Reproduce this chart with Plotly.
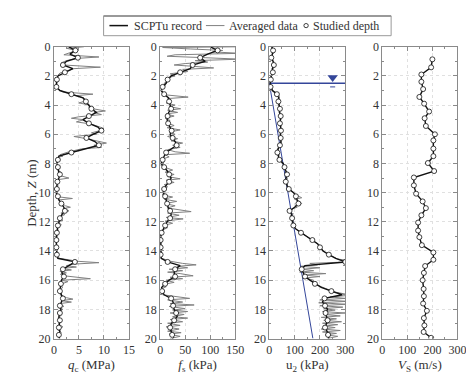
import plotly.graph_objects as go

# ---------------- data ----------------
avg_depth = [0.0, 0.25, 0.5, 0.75, 1.0, 1.25, 1.5, 1.75, 2.0, 2.25, 2.5, 2.75, 3.0, 3.25, 3.5, 3.75,
             4.0, 4.25, 4.5, 4.75, 5.0, 5.25, 5.5, 5.75, 6.0, 6.25, 6.5, 6.75, 7.0, 7.25, 7.5, 7.75,
             8.0, 8.25, 8.5, 8.75, 9.0, 9.25, 9.5, 9.75, 10.0, 10.25, 10.5, 10.75, 11.0, 11.25, 11.5, 11.75,
             12.0, 12.25, 12.5, 12.75, 13.0, 13.25, 13.5, 13.75, 14.0, 14.25, 14.5, 14.75, 15.0, 15.25, 15.5, 15.75,
             16.0, 16.25, 16.5, 16.75, 17.0, 17.25, 17.5, 17.75, 18.0, 18.25, 18.5, 18.75, 19.0, 19.25, 19.5, 19.75, 20.0]

qc_avg = [3.0, 4.3, 3.2, 4.8, 2.5, 1.8, 3.8, 2.2, 0.8, 0.6, 0.5, 0.5, 1.2, 3.5, 5.8, 6.4,
          7.0, 7.5, 8.5, 7.0, 5.8, 7.0, 8.8, 9.5, 7.8, 6.5, 8.2, 9.0, 6.0, 3.5, 1.0, 0.8,
          0.6, 0.8, 0.9, 1.2, 1.0, 0.7, 0.6, 0.6, 0.5, 0.8, 1.0, 1.5, 2.0, 2.2, 1.6, 1.2,
          1.0, 0.8, 0.7, 0.6, 0.5, 0.5, 0.5, 0.5, 0.6, 0.6, 0.8, 4.2, 3.0, 1.8, 1.6, 2.0,
          1.5, 1.4, 1.2, 1.2, 1.5, 1.8, 1.5, 1.2, 1.4, 1.2, 1.0, 1.2, 1.1, 1.0, 1.2, 1.0, 1.1]

fs_avg = [100, 115, 95, 80, 90, 65, 60, 40, 22, 15, 12, 5, 2, 8, 17, 18,
          20, 22, 17, 15, 14, 16, 20, 23, 20, 25, 30, 33, 22, 12, 8, 5,
          2, 8, 14, 18, 22, 18, 12, 8, 6, 10, 12, 14, 16, 20, 22, 20,
          14, 10, 6, 3, 1, 1, 1, 1, 1, 1, 2, 15, 40, 30, 28, 30,
          18, 10, 3, 4, 8, 22, 26, 26, 28, 32, 34, 28, 22, 20, 22, 24, 26]

u2_avg = [10, 15, 12, 8, 15, 18, 12, 14, 8, 6, 3, 5, 12, 30, 38, 36,
          38, 42, 40, 45, 44, 42, 45, 46, 44, 45, 46, 42, 35, 32, 36, 40,
          55, 60, 65, 70, 66, 65, 70, 77, 96, 105, 110, 115, 100, 80, 88, 90,
          92, 95, 105, 125, 150, 170, 190, 200, 212, 235, 262, 300, 141, 128, 135, 141,
          160, 180, 205, 245, 288, 218, 210, 220, 230, 222, 225, 230, 225, 220, 228, 232, 235]

qc_raw_depth = [0.0, 0.1, 0.25, 0.4, 0.55, 0.7, 0.8, 0.95, 1.1, 1.25, 1.4, 1.5, 1.65, 1.8, 2.0, 2.3, 2.6, 2.9,
                3.1, 3.25, 3.35, 3.5, 3.7, 3.85, 4.0, 4.2, 4.4, 4.5, 4.65, 4.8, 4.9, 5.0, 5.15, 5.3, 5.5,
                5.6, 5.75, 5.9, 6.0, 6.15, 6.3, 6.5, 6.6, 6.75, 6.9, 7.0, 7.2, 7.4, 7.5, 7.6, 7.8, 8.0,
                8.2, 8.4, 8.6, 8.8, 9.0, 9.1, 9.3, 9.5, 9.7, 9.9, 10.1, 10.3, 10.4, 10.5, 10.7, 10.9,
                11.0, 11.1, 11.25, 11.4, 11.5, 11.7, 11.9, 12.0, 12.2, 12.4, 12.6, 12.8, 13.0, 13.3,
                13.6, 13.9, 14.2, 14.5, 14.6, 14.7, 14.8, 14.9, 15.0, 15.1, 15.2, 15.3, 15.4, 15.5,
                15.6, 15.7, 15.9, 16.0, 16.1, 16.3, 16.5, 16.7, 16.9, 17.0, 17.2, 17.3, 17.4, 17.5,
                17.6, 17.8, 17.9, 18.0, 18.2, 18.4, 18.6, 18.8, 19.0, 19.2, 19.4, 19.6, 19.8, 20.0]
qc_raw = [6.0, 2.5, 4.5, 3.0, 2.0, 9.0, 4.5, 2.5, 1.5, 2.0, 9.3, 4.0, 2.5, 1.2, 0.7, 0.5, 0.4, 0.8,
          1.8, 7.8, 4.5, 6.0, 6.5, 5.0, 7.2, 7.0, 10.3, 8.0, 9.5, 5.0, 3.5, 6.0, 4.5, 7.5, 9.0,
          10.0, 9.2, 7.5, 8.5, 4.0, 6.5, 9.5, 10.5, 8.0, 9.5, 5.5, 3.0, 1.2, 1.8, 0.6, 0.9, 0.5,
          1.0, 0.7, 1.4, 0.9, 3.0, 1.0, 0.6, 0.8, 0.5, 0.6, 0.4, 1.2, 3.7, 1.0, 1.5, 2.3,
          3.3, 1.8, 3.0, 1.4, 2.2, 1.0, 1.8, 0.8, 1.5, 0.6, 0.9, 0.5, 0.6, 0.4,
          0.6, 0.5, 0.7, 0.8, 3.0, 4.5, 9.0, 4.0, 2.5, 4.5, 1.5, 3.5, 1.2, 2.5,
          1.3, 2.0, 7.3, 1.5, 2.8, 1.2, 1.8, 0.9, 1.6, 1.2, 2.5, 3.8, 1.5, 3.5,
          1.3, 2.0, 1.0, 1.8, 1.0, 1.5, 0.8, 1.6, 0.9, 1.8, 0.8, 1.5, 0.9, 1.2]

fs_raw_depth = [0.0, 0.05, 0.15, 0.25, 0.35, 0.45, 0.55, 0.65, 0.75, 0.85, 0.95, 1.05, 1.15, 1.25, 1.35,
                1.45, 1.55, 1.7, 1.85, 2.0, 2.15, 2.3, 2.5, 2.7, 2.9, 3.1, 3.3, 3.45, 3.55, 3.7, 3.85,
                4.0, 4.1, 4.25, 4.35, 4.5, 4.6, 4.75, 4.9, 5.05, 5.2, 5.4, 5.55, 5.7, 5.85, 6.0, 6.15,
                6.3, 6.45, 6.6, 6.75, 6.9, 7.05, 7.2, 7.3, 7.4, 7.55, 7.7, 7.9, 8.1, 8.3, 8.45, 8.6,
                8.75, 8.9, 9.05, 9.15, 9.3, 9.45, 9.6, 9.8, 10.0, 10.15, 10.3, 10.45, 10.6, 10.75,
                10.9, 11.05, 11.2, 11.3, 11.4, 11.55, 11.7, 11.8, 11.95, 12.1, 12.25, 12.4, 12.6,
                12.8, 13.0, 13.3, 13.6, 13.9, 14.2, 14.5, 14.7, 14.85, 14.95, 15.05, 15.15, 15.25,
                15.35, 15.45, 15.55, 15.7, 15.8, 15.9, 16.0, 16.15, 16.3, 16.45, 16.6, 16.8, 17.0,
                17.15, 17.25, 17.35, 17.5, 17.6, 17.7, 17.8, 17.95, 18.05, 18.15, 18.25, 18.35,
                18.5, 18.6, 18.7, 18.85, 18.95, 19.1, 19.2, 19.35, 19.5, 19.6, 19.7, 19.85, 20.0]
fs_raw = [160, 5, 60, 125, 105, 160, 30, 14, 90, 160, 70, 95, 50, 28, 70,
          107, 45, 55, 20, 30, 12, 18, 8, 10, 2, 5, 12, 56, 15, 22, 12,
          30, 18, 41, 15, 35, 12, 28, 10, 20, 12, 28, 14, 40, 18, 30, 15,
          35, 22, 45, 25, 40, 15, 30, 59, 10, 18, 4, 8, 1, 12, 25, 10,
          28, 15, 40, 12, 28, 8, 15, 5, 10, 4, 25, 8, 33, 10,
          30, 14, 45, 62, 15, 38, 12, 46, 10, 25, 6, 15, 3,
          6, 1, 2, 1, 2, 1, 3, 20, 45, 72, 35, 55, 18,
          45, 15, 40, 66, 20, 45, 12, 28, 5, 12, 2, 8, 5,
          35, 59, 15, 45, 20, 68, 18, 50, 25, 55, 20, 48,
          25, 55, 20, 45, 15, 40, 12, 38, 15, 42, 18, 40, 20]

u2_raw_depth = [0.0, 0.2, 0.4, 0.6, 0.8, 1.0, 1.2, 1.4, 1.6, 1.8, 2.0, 2.2, 2.4, 2.6, 2.8, 3.0, 3.2, 3.4,
                3.6, 3.8, 4.0, 4.2, 4.4, 4.6, 4.8, 5.0, 5.2, 5.4, 5.6, 5.8, 6.0, 6.2, 6.4, 6.6, 6.8,
                7.0, 7.2, 7.4, 7.6, 7.8, 8.0, 8.2, 8.4, 8.6, 8.75, 8.85, 9.0, 9.2, 9.4, 9.6, 9.8,
                10.0, 10.2, 10.35, 10.45, 10.6, 10.75, 10.85, 11.0, 11.15, 11.3, 11.45, 11.6, 11.8,
                12.0, 12.2, 12.4, 12.6, 12.8, 13.0, 13.2, 13.4, 13.6, 13.8, 14.0, 14.2, 14.4, 14.55,
                14.65, 14.75, 14.85, 14.95, 15.05, 15.15, 15.25, 15.35, 15.45, 15.55, 15.65, 15.75,
                15.85, 16.0, 16.2, 16.4, 16.6, 16.8, 16.95, 17.05, 17.15, 17.25, 17.35, 17.45, 17.55,
                17.65, 17.75, 17.85, 17.95, 18.05, 18.15, 18.25, 18.35, 18.45, 18.55, 18.65, 18.75,
                18.85, 18.95, 19.05, 19.15, 19.25, 19.35, 19.45, 19.55, 19.65, 19.75, 19.85, 20.0]
u2_raw = [12, 8, 18, 10, 6, 18, 14, 20, 10, 15, 6, 8, 2, 4, 8, 15, 32, 40,
          34, 40, 36, 44, 38, 47, 42, 46, 40, 47, 43, 48, 42, 47, 44, 48, 38,
          33, 28, 40, 34, 45, 52, 62, 60, 70, 80, 62, 72, 62, 72, 68, 82,
          92, 110, 128, 100, 120, 128, 105, 110, 85, 75, 95, 82, 95,
          88, 97, 100, 112, 130, 148, 168, 185, 200, 205, 215, 230, 250, 270,
          310, 310, 160, 190, 125, 200, 130, 175, 120, 223, 135, 200,
          140, 175, 170, 200, 225, 255, 300, 310, 240, 300, 200, 310, 195,
          305, 200, 290, 215, 260, 210, 300, 215, 280, 205, 265, 215,
          285, 210, 270, 215, 260, 205, 280, 210, 265, 220, 270, 230]

vs_depth = [0.86, 1.41, 1.9, 2.4, 2.9, 3.44, 3.9, 4.44, 4.9, 5.43, 6.0, 6.42, 6.98, 7.5, 7.97, 8.52,
            8.96, 9.5, 10.07, 10.6, 11.06, 11.55, 12.05, 12.6, 13.05, 13.6, 14.1, 14.6, 15.03, 15.5,
            16.0, 16.6, 17.1, 17.6, 18.1, 18.6, 19.1, 19.55, 19.95]
vs = [200, 195, 156, 156, 163, 148, 167, 187, 169, 174, 210, 204, 204, 204, 182, 207,
      126, 126, 135, 161, 174, 156, 143, 143, 148, 158, 204, 204, 171, 166,
      161, 165, 166, 163, 178, 166, 168, 165, 195]

hydro_depth = [2.5, 20.0]
hydro_u = [0, 172]
wt_depth = [2.5, 2.5]
wt_u = [0, 300]
wt_symbol_depth = [2.1]
wt_symbol_u = [250]
wt_dash_depth = [2.75, 2.75]
wt_dash_u = [240, 260]

x_ranges = [[0, 15], [0, 150], [0, 300], [0, 300]]
x_dticks = [5, 50, 100, 100]
x_titles = ["<i>q</i><sub>c</sub> (MPa)", "<i>f</i><sub>s</sub> (kPa)",
            "u<sub>2</sub> (kPa)", "<i>V</i><sub>S</sub> (m/s)"]
y_ticks = [0, 2, 4, 6, 8, 10, 12, 14, 16, 18, 20]
legend_labels = ["SCPTu record", "Averaged data", "Studied depth"]

# ---------------- style ----------------
W, H = 474, 377
FONT = "Liberation Serif, Times New Roman, Times, DejaVu Serif, serif"
TXT = "#333333"
x_px = [(44, 121), (153, 230), (265, 343), (381, 458)]
y_dom = [1 - 336 / H, 1 - 33 / H]
BLACK = "#111111"
GRAY = "#808080"
BLUE = "#34469a"
AX = "#8a8a8a"


def px(x):
    return x / W


def py(y):
    return 1 - y / H


fig = go.Figure()

circ_idx = slice(1, None, 2)
panels = [(qc_raw_depth, qc_raw, qc_avg), (fs_raw_depth, fs_raw, fs_avg), (u2_raw_depth, u2_raw, u2_avg)]
for i, (rd, rv, av) in enumerate(panels):
    xa = "x" if i == 0 else f"x{i+1}"
    ya = "y" if i == 0 else f"y{i+1}"
    fig.add_trace(go.Scatter(x=rv, y=rd, mode="lines", line=dict(color=GRAY, width=1),
                             name=legend_labels[1], showlegend=False, xaxis=xa, yaxis=ya))
    if i == 2:
        fig.add_trace(go.Scatter(x=hydro_u, y=hydro_depth, mode="lines", line=dict(color=BLUE, width=1),
                                 showlegend=False, xaxis=xa, yaxis=ya))
        fig.add_trace(go.Scatter(x=wt_u, y=wt_depth, mode="lines", line=dict(color=BLUE, width=1.5),
                                 showlegend=False, xaxis=xa, yaxis=ya))
        fig.add_trace(go.Scatter(x=wt_dash_u, y=wt_dash_depth, mode="lines", line=dict(color=BLUE, width=1),
                                 showlegend=False, xaxis=xa, yaxis=ya))
        fig.add_trace(go.Scatter(x=wt_symbol_u, y=wt_symbol_depth, mode="markers",
                                 marker=dict(symbol="triangle-down", size=9, color=BLUE),
                                 showlegend=False, xaxis=xa, yaxis=ya))
    fig.add_trace(go.Scatter(x=av, y=avg_depth, mode="lines", line=dict(color=BLACK, width=1.4),
                             name=legend_labels[0], showlegend=False, xaxis=xa, yaxis=ya))
    fig.add_trace(go.Scatter(x=av[circ_idx], y=avg_depth[circ_idx], mode="markers",
                             marker=dict(symbol="circle", size=5, color="white",
                                         line=dict(color=BLACK, width=0.8)),
                             name=legend_labels[2], showlegend=False, xaxis=xa, yaxis=ya))

fig.add_trace(go.Scatter(x=vs, y=vs_depth, mode="lines+markers", line=dict(color=BLACK, width=1.4),
                         marker=dict(symbol="circle", size=5, color="white", line=dict(color=BLACK, width=0.8)),
                         showlegend=False, xaxis="x4", yaxis="y4"))

axis_common = dict(showline=True, linecolor=AX, linewidth=1, mirror="ticks",
                   ticks="inside", ticklen=4, tickcolor=AX,
                   showgrid=True, gridcolor="#e0e0e0", griddash="dot", gridwidth=1,
                   zeroline=False, tickfont=dict(family=FONT, size=12, color=TXT))

layout = {}
for i in range(4):
    sfx = "" if i == 0 else str(i + 1)
    x0, x1 = x_px[i]
    layout[f"xaxis{sfx}"] = dict(axis_common, domain=[px(x0), px(x1)], anchor=f"y{sfx}",
                                 range=x_ranges[i], dtick=x_dticks[i], tick0=0,
                                 minor=dict(dtick=x_dticks[i] / 2, ticks="inside", ticklen=2,
                                            tickcolor=AX, showgrid=False),
                                 title=dict(text=x_titles[i], font=dict(family=FONT, size=13, color=TXT),
                                            standoff=3))
    layout[f"yaxis{sfx}"] = dict(axis_common, domain=y_dom, anchor=f"x{sfx}",
                                 range=[20, 0], tickvals=y_ticks,
                                 minor=dict(dtick=1, ticks="inside", ticklen=2, tickcolor=AX,
                                            showgrid=False))

# ---- hand-built legend box (matches the compact original layout) ----
ly = 11
shapes = [
    dict(type="rect", xref="paper", yref="paper", x0=px(95), x1=px(390), y0=py(21.5), y1=py(1),
         line=dict(color="#999999", width=1), fillcolor="white", layer="above"),
    dict(type="line", xref="paper", yref="paper", x0=px(95), x1=px(390), y0=py(1), y1=py(1),
         line=dict(color="#999999", width=2), layer="above"),
    dict(type="line", xref="paper", yref="paper", x0=px(101), x1=px(120), y0=py(ly), y1=py(ly),
         line=dict(color=BLACK, width=1.5), layer="above"),
    dict(type="line", xref="paper", yref="paper", x0=px(200), x1=px(219), y0=py(ly), y1=py(ly),
         line=dict(color=GRAY, width=1), layer="above"),
    dict(type="circle", xref="paper", yref="paper", x0=px(300.5), x1=px(305), y0=py(ly + 2.2), y1=py(ly - 2.2),
         line=dict(color=BLACK, width=0.8), fillcolor="white", layer="above"),
]
legend_x = [124, 222, 308]
annotations = [dict(text=t, x=px(x), y=py(ly), xref="paper", yref="paper", xanchor="left",
                    yanchor="middle", showarrow=False, font=dict(family=FONT, size=12, color=TXT))
               for t, x in zip(legend_labels, legend_x)]
annotations.append(dict(text="Depth, <i>Z</i> (m)", x=px(11), y=(y_dom[0] + y_dom[1]) / 2,
                        xref="paper", yref="paper", textangle=-90, showarrow=False,
                        font=dict(family=FONT, size=13, color=TXT)))

fig.update_layout(**layout)
fig.update_layout(
    width=W, height=H, margin=dict(l=0, r=0, t=0, b=0),
    paper_bgcolor="white", plot_bgcolor="white",
    font=dict(family=FONT, size=12, color=TXT),
    showlegend=False,
    shapes=shapes,
    annotations=annotations,
)

fig.write_html("out.html")
